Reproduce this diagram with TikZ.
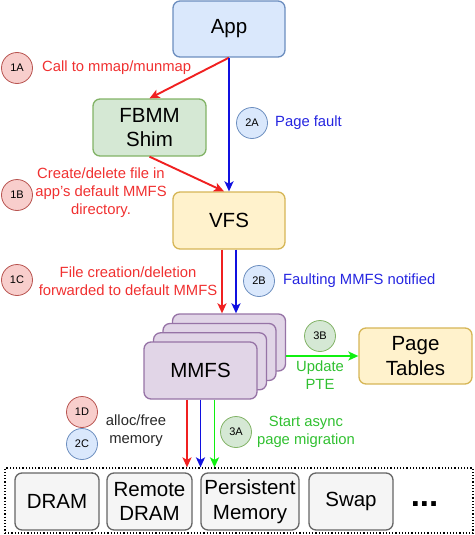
\documentclass[tikz,border=0pt]{standalone}
\usepackage{fontspec}
\setmainfont{Liberation Sans}
\usetikzlibrary{arrows.meta}
\definecolor{redA}{HTML}{F02020}
\definecolor{redT}{HTML}{F03030}
\definecolor{blueA}{HTML}{1010E0}
\definecolor{blueT}{HTML}{2525E0}
\definecolor{greenA}{HTML}{10F010}
\definecolor{greenT}{HTML}{30C030}
\tikzset{
  box/.style={draw, line width=1.3pt, rounded corners=7pt, align=center, inner sep=0pt,
    font=\fontsize{20.5}{24.5}\selectfont},
  appbox/.style={box, draw={rgb,255:red,108;green,142;blue,191}, fill={rgb,255:red,218;green,232;blue,252}},
  shimbox/.style={box, draw={rgb,255:red,130;green,179;blue,102}, fill={rgb,255:red,213;green,232;blue,212}},
  yelbox/.style={box, draw={rgb,255:red,214;green,182;blue,86}, fill={rgb,255:red,255;green,242;blue,204}},
  mmfsbox/.style={box, draw={rgb,255:red,150;green,115;blue,166}, fill={rgb,255:red,225;green,213;blue,231}, minimum width=113pt, minimum height=57pt},
  membox/.style={box, draw={rgb,255:red,102;green,102;blue,102}, fill={rgb,255:red,245;green,245;blue,245}, minimum height=57pt},
  circ/.style={circle, draw, line width=0.8pt, minimum size=31pt, inner sep=0pt, font=\fontsize{11}{12}\selectfont},
  cred/.style={circ, draw={rgb,255:red,184;green,84;blue,80}, fill={rgb,255:red,248;green,206;blue,204}},
  cblue/.style={circ, draw={rgb,255:red,108;green,142;blue,191}, fill={rgb,255:red,218;green,232;blue,252}},
  cgreen/.style={circ, draw={rgb,255:red,130;green,179;blue,102}, fill={rgb,255:red,213;green,232;blue,212}},
  lbl/.style={font=\fontsize{14.8}{18}\selectfont, align=center, inner sep=0pt},
  arr/.style={line width=1.9pt, -{Stealth[length=10pt,width=9pt,inset=2.5pt]}},
}
\begin{document}
\begin{tikzpicture}[x=1pt,y=-1pt]
\useasboundingbox (0,0) rectangle (474,535);
% main boxes
\node[appbox, minimum width=112pt, minimum height=56pt] (app) at (229,29) {App};
\node[shimbox, minimum width=113pt, minimum height=57pt] (shim) at (149.5,127.5) {FBMM\\Shim};
\node[yelbox, minimum width=112pt, minimum height=57pt] (vfs) at (229,220.5) {VFS};
\node[mmfsbox] (m3) at (229,342.5) {};
\node[mmfsbox] (m2) at (219.5,352) {};
\node[mmfsbox] (m1) at (210,361.3) {};
\node[mmfsbox] (m0) at (200.5,370.5) {MMFS};
\node[yelbox, minimum width=113pt, minimum height=56pt] (pt) at (415.5,356) {Page\\Tables};
% memory container
\node[draw, dotted, line width=1.2pt, minimum width=468pt, minimum height=65pt, inner sep=0pt] (mem) at (239,500.5) {};
\node[membox, minimum width=84pt] (dram) at (57,501.5) {DRAM};
\node[membox, minimum width=85pt] (rdram) at (149.5,501.5) {Remote\\DRAM};
\node[membox, minimum width=98pt] (pmem) at (250,501.5) {Persistent\\Memory};
\node[membox, minimum width=84pt] (swap) at (351,501.5) {Swap};
\node[font=\fontsize{33}{34}\bfseries\selectfont, inner sep=0pt, anchor=base] (dots) at (424.5,506) {...};
% arrows
\draw[arr, redA] (app.south) -- (shim.north);
\draw[arr, blueA] (app.south) -- (vfs.north);
\draw[arr, redA] (shim.south) -- ([xshift=-5pt]vfs.north);
\draw[arr, redA] ([xshift=-7pt]vfs.south) -- ([xshift=-7pt]vfs.south |- m3.north);
\draw[arr, blueA] ([xshift=7pt]vfs.south) -- ([xshift=7pt]vfs.south |- m3.north);
\draw[arr, greenA] (m3.east |- pt.west) -- (pt.west);
\draw[arr, redA] ([xshift=-13.5pt]m0.south) -- ([xshift=-13.5pt]m0.south |- mem.north);
\draw[arr, blueA] (m0.south) -- (m0.south |- mem.north);
\draw[arr, greenA] ([xshift=14pt]m0.south) -- ([xshift=14pt]m0.south |- mem.north);
% step circles
\node[cred] (c1a) at (17,68) {1A};
\node[cblue] (c2a) at (252,123) {2A};
\node[cred] (c1b) at (17,195) {1B};
\node[cred] (c1c) at (17,280) {1C};
\node[cblue] (c2b) at (259,281) {2B};
\node[cgreen] (c3b) at (320,336) {3B};
\node[cred] (c1d) at (82,412) {1D};
\node[cblue] (c2c) at (82,444) {2C};
\node[cgreen] (c3a) at (236,432) {3A};
% labels
\node[lbl, text=redT, anchor=west] (l1a) at (42,68) {Call to mmap/munmap};
\node[lbl, text=blueT, anchor=west] (l2a) at (275,123) {Page fault};
\node[lbl, text=redT] (l1b) at (101,193) {Create/delete file in\\app's default MMFS\\directory.};
\node[lbl, text=redT] (l1c) at (128,281) {File creation/deletion\\forwarded to default MMFS};
\node[lbl, text=blueT, anchor=west] (l2b) at (283,281) {Faulting MMFS notified};
\node[lbl, text=greenT] (l3b) at (320,375) {Update\\PTE};
\node[lbl, text={rgb,255:red,40;green,40;blue,40}] (l1d) at (136,430.5) {alloc/free\\memory};
\node[lbl, text=greenT] (l3a) at (306,432) {Start async\\page migration};
\end{tikzpicture}
\end{document}
